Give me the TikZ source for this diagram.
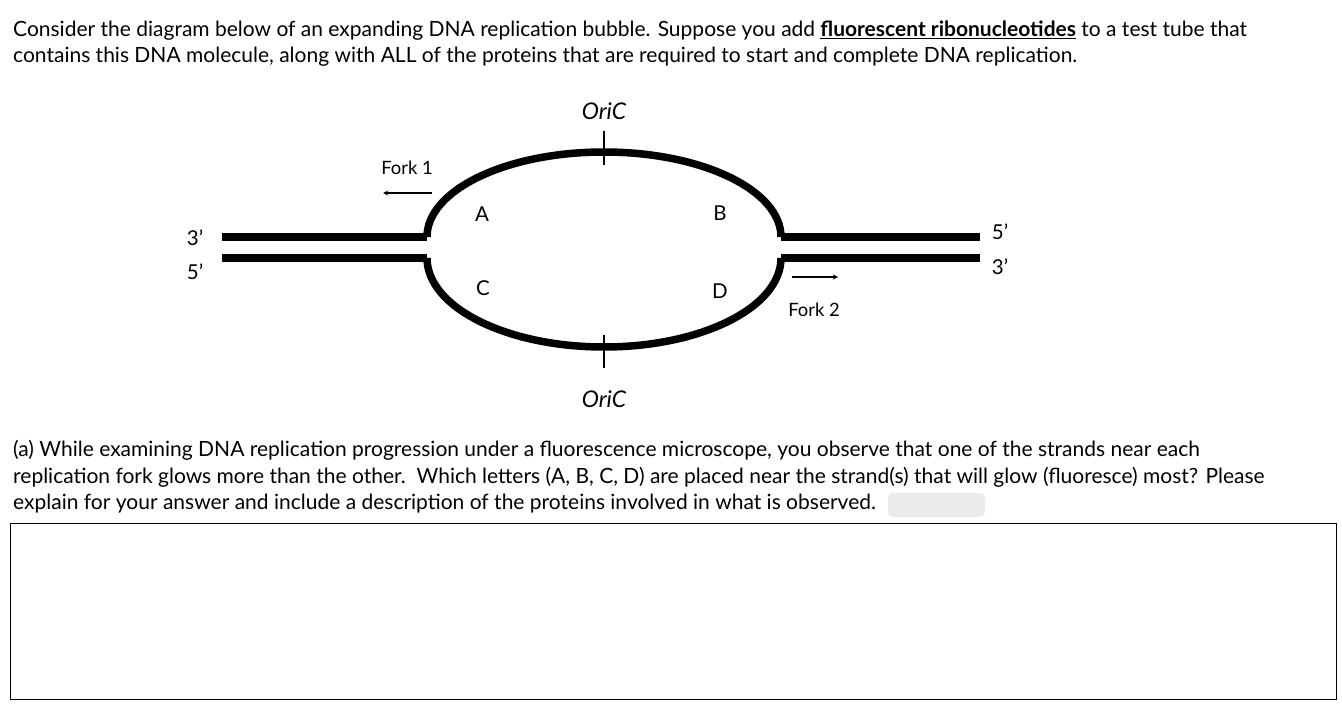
\documentclass[tikz,border=0pt]{standalone}
\usepackage{fontspec}
\setmainfont{Lato}
\begin{document}
\begin{tikzpicture}[x=1pt,y=-1pt,
  strand/.style={line width=7.5pt},
  txt/.style={anchor=west,inner sep=0pt,font=\fontsize{21}{25}\selectfont},
  lab/.style={inner sep=0pt,font=\fontsize{20.5}{24}\selectfont},
  small/.style={inner sep=0pt,font=\fontsize{18.4}{22}\selectfont},
  arr/.style={-stealth,line width=1.3pt}]
\useasboundingbox (0,0) rectangle (1342,706);
\node[txt] (l1) at (13,31) {Consider the diagram below of an expanding DNA replication bubble. Suppose you add \underline{\textbf{fluorescent ribonucleotides}} to a test tube that};
\node[txt] (l2) at (13,57) {contains this DNA molecule, along with ALL of the proteins that are required to start and complete DNA replication.};
% strands
\coordinate (L1) at (222,237); \coordinate (L2) at (222,258);
\coordinate (FL1) at (427,237); \coordinate (FL2) at (427,258);
\coordinate (FR1) at (781,237); \coordinate (FR2) at (781,258);
\coordinate (R1) at (980,237); \coordinate (R2) at (980,258);
\draw[strand] (L1) -- (FL1);
\draw[strand] (L2) -- (FL2);
\draw[strand] (FR1) -- (R1);
\draw[strand] (FR2) -- (R2);
\draw[strand] (FL1) arc[start angle=180,end angle=0,x radius=177,y radius=-85];
\draw[strand] (FL2) arc[start angle=180,end angle=360,x radius=177,y radius=-89];
\draw[line width=1.6pt] (604,131) -- (604,165);
\draw[line width=1.6pt] (604,335) -- (604,368);
\node[lab,font=\fontsize{23}{27}\selectfont\itshape] (o1) at (604,111) {OriC};
\node[lab,font=\fontsize{23}{27}\selectfont\itshape] (o2) at (604,399) {OriC};
\node[small] (f1) at (407,168) {Fork 1};
\coordinate (a1s) at (432,193); \coordinate (a1e) at (383,193);
\draw[arr] (a1s) -- (a1e);
\node[small] (f2) at (814,310) {Fork 2};
\coordinate (a2s) at (792,277); \coordinate (a2e) at (838,277);
\draw[arr] (a2s) -- (a2e);
\node[lab] (A) at (482,214) {A};
\node[lab] (B) at (720,213) {B};
\node[lab] (C) at (483,288) {C};
\node[lab] (D) at (720,291) {D};
\node[lab] (p3l) at (195,238) {3’};
\node[lab] (p5l) at (195,272) {5’};
\node[lab] (p5r) at (1000,232) {5’};
\node[lab] (p3r) at (1000,267) {3’};
% question
\node[txt] (q1) at (13,450) {(a) While examining DNA replication progression under a fluorescence microscope, you observe that one of the strands near each};
\node[txt] (q2) at (13,477) {replication fork glows more than the other.\ \ Which letters (A, B, C, D) are placed near the strand(s) that will glow (fluoresce) most? Please};
\node[txt] (q3) at (13,504) {explain for your answer and include a description of the proteins involved in what is observed.};
\fill[black!8,rounded corners=5pt] (888,493) rectangle (985,517);
\draw[line width=1pt] (10,523) rectangle (1336,699);
\end{tikzpicture}
\end{document}
